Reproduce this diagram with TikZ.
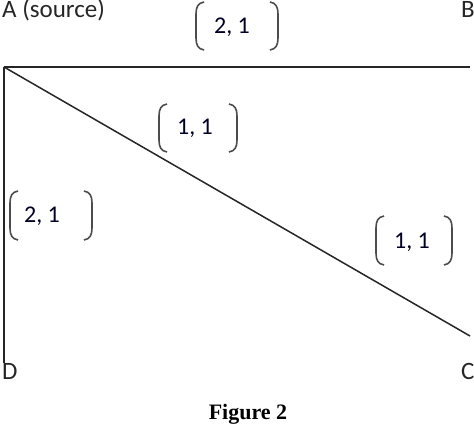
\documentclass[tikz,border=0pt]{standalone}
\usepackage{fontspec}
\setmainfont{Carlito}
\newfontfamily\capfont{Liberation Serif}
\begin{document}
\begin{tikzpicture}[x=1pt,y=-1pt,
  lbl/.style={inner sep=0pt,font=\fontsize{25}{30}\selectfont,text=black!85},
  wt/.style={inner sep=0pt,font=\fontsize{24}{29}\selectfont,text=black!85!blue},
  edge/.style={line width=1.5pt,black!85},
  brk/.style={line width=1.6pt,black!70}]
\useasboundingbox (0,0) rectangle (474,425);
\coordinate (a) at (4,67);
\coordinate (b) at (470,67);
\coordinate (c) at (470,336);
\coordinate (d) at (4,363);
\draw[edge] (a) -- (b);
\draw[edge] (a) -- (d);
\draw[edge] (a) -- (c);
\node[lbl,anchor=base west] (A) at (2,18) {A (source)};
\node[lbl,anchor=base west] (B) at (461,18) {B};
\node[lbl,anchor=base west] (D) at (2,379) {D};
\node[lbl,anchor=base west] (C) at (461,379) {C};
\node[inner sep=0pt,font=\capfont\bfseries\fontsize{22}{26}\selectfont,anchor=base] (F) at (248,419) {Figure 2};
\tikzset{pics/wbr/.style args={#1/#2/#3/#4}{code={
  \draw[brk] (#1+8,#3) .. controls (#1+2,#3+1) and (#1,#3+5) .. (#1,#3+12) -- (#1,#4-12) .. controls (#1,#4-5) and (#1+2,#4-1) .. (#1+8,#4);
  \draw[brk] (#2-8,#3) .. controls (#2-2,#3+1) and (#2,#3+5) .. (#2,#3+12) -- (#2,#4-12) .. controls (#2,#4-5) and (#2-2,#4-1) .. (#2-8,#4);
}}}
\pic at (0,0) {wbr={196/278/2/50}};
\node[wt] (w1) at (232,27) {2, 1};
\pic at (0,0) {wbr={159/237/104/152}};
\node[wt] (w2) at (195,128) {1, 1};
\pic at (0,0) {wbr={10/92/191/240}};
\node[wt] (w3) at (42,216) {2, 1};
\pic at (0,0) {wbr={376/452/216/265}};
\node[wt] (w4) at (412,242) {1, 1};
\end{tikzpicture}
\end{document}
